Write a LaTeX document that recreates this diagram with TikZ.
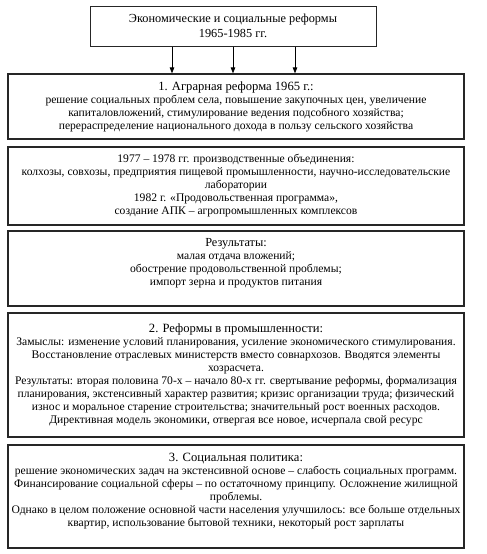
\documentclass[tikz,border=0pt]{standalone}
\usepackage{fontspec}
\setmainfont{Liberation Serif}
\usetikzlibrary{arrows.meta}
\begin{document}
\begin{tikzpicture}[x=1pt,y=-1pt,
  box/.style={draw=black!85, line width=1.2pt, rectangle, minimum width=456pt, align=center,
    inner sep=0pt, font=\fontsize{11.6}{13}\selectfont},
  topbox/.style={draw=black!85, line width=1pt, rectangle, minimum width=286pt, minimum height=40pt,
    align=center, inner sep=0pt, font=\fontsize{12.3}{15}\selectfont},
  ttl/.style={font=\fontsize{12.6}{15}\selectfont},
  arr/.style={line width=0.8pt, -{Triangle[length=6pt,width=4.5pt]}}]
\useasboundingbox (0,0) rectangle (487,554);
\node[topbox] (top) at (233,26) {Экономические и социальные реформы\\1965-1985 гг.};
\node[box, minimum height=65pt] (b1) at (236,106.5) {{\fontsize{12.6}{15}\selectfont 1. Аграрная реформа 1965 г.:}\\
решение социальных проблем села, повышение закупочных цен, увеличение\\
капиталовложений, стимулирование ведения подсобного хозяйства;\\
перераспределение национального дохода в пользу сельского хозяйства};
\node[box, minimum height=78pt] (b2) at (236,186) {1977 – 1978 гг. производственные объединения:\\
колхозы, совхозы, предприятия пищевой промышленности, научно-исследовательские\\
лаборатории\\
1982 г. «Продовольственная программа»,\\
создание АПК – агропромышленных комплексов};
\node[box, minimum height=75pt] (b3) at (236,268.5) {{\fontsize{12.3}{14}\selectfont Результаты:}\\
малая отдача вложений;\\
обострение продовольственной проблемы;\\
импорт зерна и продуктов питания\\ \mbox{}};
\node[box, minimum height=124pt] (b4) at (236,375) {{\fontsize{12.6}{14}\selectfont 2. Реформы в промышленности:}\\
Замыслы: изменение условий планирования, усиление экономического стимулирования.\\
Восстановление отраслевых министерств вместо совнархозов. Вводятся элементы\\
хозрасчета.\\
Результаты: вторая половина 70-х – начало 80-х гг. свертывание реформы, формализация\\
планирования, экстенсивный характер развития; кризис организации труда; физический\\
износ и моральное старение строительства; значительный рост военных расходов.\\
Директивная модель экономики, отвергая все новое, исчерпала свой ресурс};
\node[box, minimum height=103pt] (b5) at (236,496.5) {{\fontsize{12.6}{14}\selectfont 3. Социальная политика:}\\
решение экономических задач на экстенсивной основе – слабость социальных программ.\\
Финансирование социальной сферы – по остаточному принципу. Осложнение жилищной\\
проблемы.\\
Однако в целом положение основной части населения улучшилось: все больше отдельных\\
квартир, использование бытовой техники, некоторый рост зарплаты\\ \mbox{}};
\draw[arr] (top.south -| 172,0) -- (b1.north -| 172,0);
\draw[arr] (top.south -| 233,0) -- (b1.north -| 233,0);
\draw[arr] (top.south -| 295,0) -- (b1.north -| 295,0);
\end{tikzpicture}
\end{document}
